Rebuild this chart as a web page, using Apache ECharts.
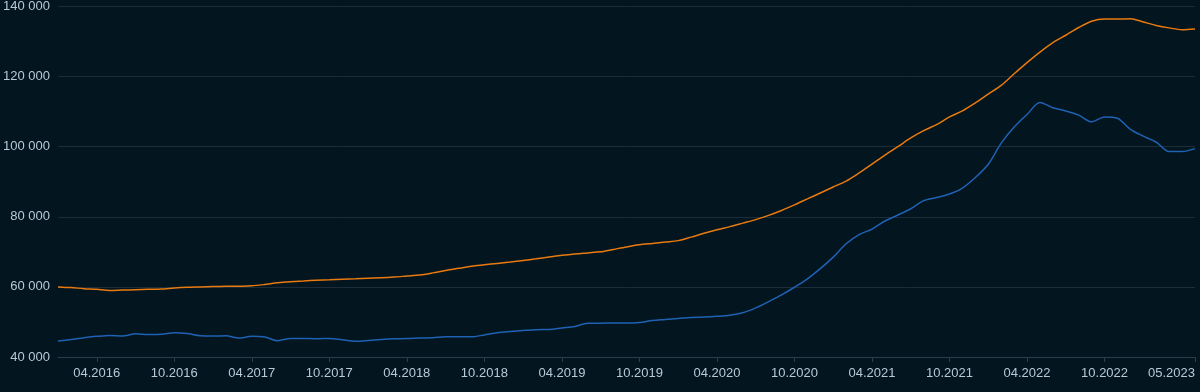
<!DOCTYPE html>
<html>
<head>
<meta charset="utf-8">
<script src="https://cdn.jsdelivr.net/npm/echarts@6/dist/echarts.min.js"></script>
<style>
html,body{margin:0;padding:0;background:#03151f;}
#chart{width:1200px;height:392px;}
</style>
</head>
<body>
<div id="chart"></div>
<script>
// Monthly categories 01.2016 .. 05.2023
const startYear = 2016, startMonth = 1, monthCount = 89;
const categories = [];
for (let i = 0; i < monthCount; i++) {
  const m = (startMonth - 1 + i) % 12 + 1;
  const y = startYear + Math.floor((startMonth - 1 + i) / 12);
  categories.push((m < 10 ? '0' + m : '' + m) + '.' + y);
}
const labelMonths = ['04', '10'];
const hiddenLabels = ['04.2023'];

const orangeValues = [
  60000, 59800, 59500, 59300, 59000, 59100, 59200, 59300, 59400, 59700,
  59900, 60000, 60100, 60150, 60200, 60300, 60700, 61200, 61500, 61700,
  61900, 62050, 62200, 62350, 62500, 62600, 62800, 63100, 63400, 64000,
  64700, 65300, 65900, 66300, 66700, 67100, 67550, 68000, 68500, 69000,
  69400, 69700, 70000, 70700, 71400, 72000, 72400, 72800, 73200, 74200,
  75300, 76300, 77200, 78200, 79200, 80400, 81800, 83400, 85100, 86800,
  88500, 90200, 92500, 95000, 97600, 100000, 102500, 104600, 106300, 108500,
  110200, 112500, 115000, 117500, 120800, 124000, 127000, 129700, 131800, 134000,
  135800, 136400, 136400, 136500, 135600, 134600, 133900, 133400, 133600
];
const blueValues = [
  44550, 45000, 45500, 45900, 46150, 46000, 46600, 46450, 46500, 46900,
  46700, 46050, 46000, 46050, 45400, 45900, 45700, 44650, 45300, 45300,
  45200, 45300, 44900, 44500, 44700, 45000, 45200, 45250, 45400, 45500,
  45800, 45800, 45750, 46300, 46900, 47250, 47550, 47800, 47850, 48300,
  48700, 49650, 49650, 49700, 49700, 49850, 50400, 50700, 51000, 51300,
  51400, 51600, 51900, 52600, 54000, 55800, 57700, 59900, 62300, 65200,
  68500, 72300, 74900, 76500, 78800, 80500, 82300, 84600, 85500, 86500,
  88200, 91200, 95000, 101000, 105600, 109200, 112600, 111100, 110200, 109000,
  107100, 108500, 108100, 104950, 103000, 101300, 98600, 98600, 99450
];
const yMin = 40000, yMax = 140000, yStep = 20000;

const chart = echarts.init(document.getElementById('chart'), null, {renderer: 'canvas'});
const showIdx = function (idx, val) {
  if (idx === categories.length - 1) return true;
  if (hiddenLabels.indexOf(val) >= 0) return false;
  return labelMonths.indexOf(val.slice(0, 2)) >= 0;
};
const fmt = v => String(v).replace(/\B(?=(\d{3})+(?!\d))/g, ' ');
chart.setOption({
  backgroundColor: '#03151f',
  animation: false,
  grid: {left: 57, right: 5, top: 5, bottom: 35, containLabel: false},
  xAxis: {
    type: 'category',
    data: categories,
    boundaryGap: false,
    axisLine: {lineStyle: {color: '#2b3d4d', width: 1}},
    axisTick: {show: true, interval: showIdx, length: 5, lineStyle: {color: '#2b3d4d'}},
    axisLabel: {
      interval: showIdx,
      color: '#b8c9d7',
      fontSize: 13,
      fontFamily: 'Liberation Sans, Arial, sans-serif',
      margin: 10,
      alignMaxLabel: 'right'
    },
    splitLine: {show: false}
  },
  yAxis: {
    type: 'value',
    min: yMin, max: yMax, interval: yStep,
    axisLine: {show: false},
    axisTick: {show: false},
    axisLabel: {
      color: '#b8c9d7',
      fontSize: 13,
      fontFamily: 'Liberation Sans, Arial, sans-serif',
      margin: 8,
      formatter: fmt
    },
    splitLine: {lineStyle: {color: '#1c2d39', width: 1}}
  },
  series: [
    {
      type: 'line', data: orangeValues, symbol: 'none', smooth: 0.3,
      lineStyle: {color: '#e97a10', width: 1.5}
    },
    {
      type: 'line', data: blueValues, symbol: 'none', smooth: 0.3,
      lineStyle: {color: '#1f62b4', width: 1.5}
    }
  ]
});
</script>
</body>
</html>
